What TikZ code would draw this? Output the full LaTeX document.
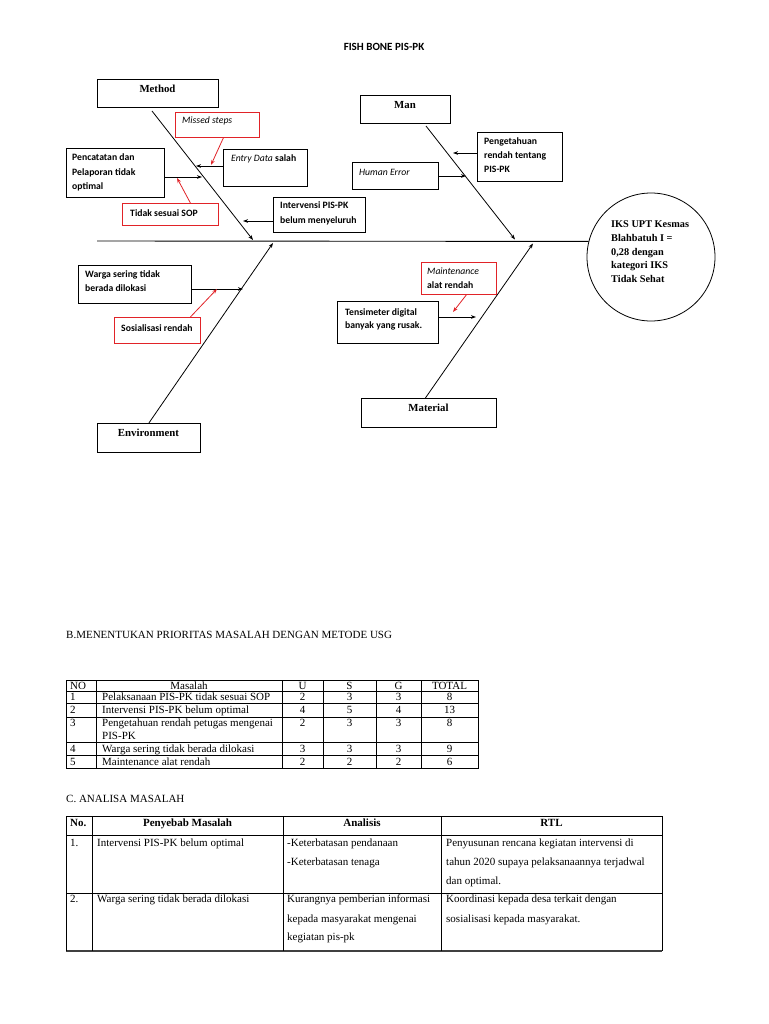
\documentclass[tikz,border=0pt]{standalone}
\usepackage{fontspec}
\setmainfont{Liberation Serif}
\newfontfamily\calib{Carlito}
\usetikzlibrary{arrows.meta,calc}
\definecolor{redline}{RGB}{225,35,40}
\begin{document}
\begin{tikzpicture}[x=1pt,y=-1pt,
  box/.style={draw,line width=0.8pt,inner sep=0pt,anchor=north west},
  rbox/.style={draw=redline,line width=0.8pt,inner sep=0pt,anchor=north west},
  cb/.style={font=\calib\bfseries\fontsize{9.7}{11}\selectfont,inner sep=0pt,anchor=base west},
  ci/.style={font=\calib\itshape\fontsize{9.7}{11}\selectfont,inner sep=0pt,anchor=base west},
  hd/.style={font=\bfseries\fontsize{10.8}{12}\selectfont,inner sep=0pt,anchor=base},
  circtxt/.style={font=\bfseries\fontsize{10.3}{12}\selectfont,inner sep=0pt,anchor=base west},
  bone/.style={line width=0.8pt,-{Stealth[length=5pt,width=3.6pt]}},
  arr/.style={line width=0.8pt,-{Stealth[length=5pt,width=3.6pt]}},
  rarr/.style={draw=redline,line width=0.8pt,-{Stealth[length=5pt,width=3.6pt]}},
  tl/.style={line width=0.7pt},
  tw/.style={font=\fontsize{11}{12}\selectfont,inner sep=0pt,anchor=base west},
  tc/.style={font=\fontsize{11}{12}\selectfont,inner sep=0pt,anchor=base},
  tbc/.style={font=\bfseries\fontsize{11}{12}\selectfont,inner sep=0pt,anchor=base},
  tbw/.style={font=\bfseries\fontsize{11}{12}\selectfont,inner sep=0pt,anchor=base west}
]
\useasboundingbox[fill=white] (0,0) rectangle (768,1024);

% ---------- title ----------
\node[font=\calib\bfseries\fontsize{11}{12}\selectfont,inner sep=0pt,anchor=base] (title) at (384,50.5) {FISH BONE PIS-PK};

% ---------- boxes ----------
\node[box,minimum width=121pt,minimum height=28pt] (method) at (97,79) {};
\node[box,minimum width=90pt,minimum height=28pt] (man) at (360,95) {};
\node[box,minimum width=103pt,minimum height=29pt] (env) at (97,423) {};
\node[box,minimum width=135pt,minimum height=29pt] (mat) at (361,398) {};

\node[hd] (methodt) at (157.5,92.5) {Method};
\node[hd] (mant) at (405,109) {Man};
\node[hd] (envt) at (148.5,436.5) {Environment};
\node[hd] (matt) at (428.5,411.5) {Material};

\node[rbox,minimum width=84pt,minimum height=25pt] (missed) at (175,112) {};
\node[box,minimum width=98pt,minimum height=49pt] (pcat) at (66,148) {};
\node[box,minimum width=84pt,minimum height=37pt] (entry) at (223,149) {};
\node[rbox,minimum width=96pt,minimum height=22pt] (sop) at (122,203) {};
\node[box,minimum width=92pt,minimum height=35pt] (interv) at (273,197) {};
\node[box,minimum width=85pt,minimum height=49pt] (peng) at (477,132) {};
\node[box,minimum width=86pt,minimum height=27pt] (human) at (352,162) {};
\node[box,minimum width=113pt,minimum height=38pt] (warga) at (78,265) {};
\node[rbox,minimum width=86pt,minimum height=26pt] (sos) at (114,317) {};
\node[rbox,minimum width=75pt,minimum height=32pt] (maint) at (421,262) {};
\node[box,minimum width=101pt,minimum height=42pt] (tensi) at (337,301) {};

% ---------- label texts ----------
\node[ci] (t1) at (182,124) {Missed steps};
\node[cb] (t2a) at (72,161) {Pencatatan dan};
\node[cb] (t2b) at (72,175.5) {Pelaporan tidak};
\node[cb] (t2c) at (72,190) {optimal};
\node[cb] (t3) at (231,162) {{\mdseries\itshape Entry Data} salah};
\node[cb] (t4) at (130,216.5) {Tidak sesuai SOP};
\node[cb] (t5a) at (280,209) {Intervensi PIS-PK};
\node[cb] (t5b) at (280,224) {belum menyeluruh};
\node[cb] (t6a) at (484,145) {Pengetahuan};
\node[cb] (t6b) at (484,159) {rendah tentang};
\node[cb] (t6c) at (484,172.5) {PIS-PK};
\node[ci] (t7) at (359,176) {Human Error};
\node[cb] (t8a) at (85,277) {Warga sering tidak};
\node[cb] (t8b) at (85,291.5) {berada dilokasi};
\node[cb] (t9) at (121,331.5) {Sosialisasi rendah};
\node[ci] (t10a) at (427,274.5) {Maintenance};
\node[cb] (t10b) at (427,288.5) {alat rendah};
\node[cb] (t11a) at (345,315) {Tensimeter digital};
\node[cb] (t11b) at (345,328.5) {banyak yang rusak.};

% ---------- effect circle ----------
\node[draw,circle,line width=0.8pt,minimum size=128pt,inner sep=0pt] (iks) at (651,257) {};
\node[circtxt] (c1) at (611,227.5) {IKS UPT Kesmas};
\node[circtxt] (c2) at (611,241.5) {Blahbatuh I =};
\node[circtxt] (c3) at (611,255) {0,28 dengan};
\node[circtxt] (c4) at (611,268.5) {kategori IKS};
\node[circtxt] (c5) at (611,282) {Tidak Sehat};

% ---------- spine and bones ----------
\coordinate (spineL) at (97,241);
\draw[line width=0.9pt] (spineL) -- (iks.166);

\coordinate (mbs) at (152,111);
\coordinate (mbe) at (253,240);
\coordinate (nbs) at (426,126);
\coordinate (nbe) at (515,239.5);
\coordinate (ebe) at (273,243);
\coordinate (tbe) at (533,243.5);
\draw[bone] (mbs) -- (mbe);
\draw[bone] (nbs) -- (nbe);
\draw[bone] (env.north) -- (ebe);
\draw[bone] ([xshift=-3.5pt]mat.north) -- (tbe);

% ---------- sub-arrows ----------
\coordinate (edtip) at (196,166);
\coordinate (pctip) at (202,177);
\coordinate (ivtip) at (243,221);
\coordinate (pgtip) at (453,153);
\coordinate (hetip) at (466,176);
\coordinate (wgtip) at (243,289);
\coordinate (tstip) at (476,317);
\draw[arr] (entry.west |- edtip) -- (edtip);
\draw[arr] (pcat.east |- pctip) -- (pctip);
\draw[arr] (interv.west |- ivtip) -- (ivtip);
\draw[arr] (peng.west |- pgtip) -- (pgtip);
\draw[arr] (human.east |- hetip) -- (hetip);
\draw[arr] (warga.east |- wgtip) -- (wgtip);
\draw[arr] (tensi.east |- tstip) -- (tstip);

\coordinate (mstip) at (211,165);
\coordinate (soptip) at (177,178);
\coordinate (sostip) at (217,289);
\coordinate (mntip) at (453,312);
\draw[rarr] ([xshift=6pt]missed.south) -- (mstip);
\draw[rarr] ([xshift=20pt]sop.north) -- (soptip);
\draw[rarr] ([xshift=33pt]sos.north) -- (sostip);
\draw[rarr] ([xshift=7.5pt]maint.south) -- (mntip);

% ---------- section B ----------
\node[tw] (hB) at (66,638.5) {B.MENENTUKAN PRIORITAS MASALAH DENGAN METODE USG};

\draw[tl] (66,680) rectangle (478,768);
\foreach \yy in {691,703,717,742,755} \draw[tl] (66,\yy) -- (478,\yy);
\foreach \xx in {96,282,323,376,421} \draw[tl] (\xx,680) -- (\xx,768);

\node[tw] (b00) at (70,689) {NO};
\node[tc] (b01) at (189,689) {Masalah};
\node[tc] (b02) at (302.5,689) {U};
\node[tc] (b03) at (349.5,689) {S};
\node[tc] (b04) at (398.5,689) {G};
\node[tc] (b05) at (449.5,689) {TOTAL};

\node[tw] (b10) at (70,700.5) {1};
\node[tw] (b11) at (102,700.5) {Pelaksanaan PIS-PK tidak sesuai SOP};
\node[tc] (b12) at (302.5,700.5) {2};
\node[tc] (b13) at (349.5,700.5) {3};
\node[tc] (b14) at (398.5,700.5) {3};
\node[tc] (b15) at (449.5,700.5) {8};

\node[tw] (b20) at (70,713) {2};
\node[tw] (b21) at (102,713) {Intervensi PIS-PK belum optimal};
\node[tc] (b22) at (302.5,713) {4};
\node[tc] (b23) at (349.5,713) {5};
\node[tc] (b24) at (398.5,713) {4};
\node[tc] (b25) at (449.5,713) {13};

\node[tw] (b30) at (70,726) {3};
\node[tw] (b31) at (102,726) {Pengetahuan rendah petugas mengenai};
\node[tw] (b31b) at (102,739) {PIS-PK};
\node[tc] (b32) at (302.5,726) {2};
\node[tc] (b33) at (349.5,726) {3};
\node[tc] (b34) at (398.5,726) {3};
\node[tc] (b35) at (449.5,726) {8};

\node[tw] (b40) at (70,752) {4};
\node[tw] (b41) at (102,752) {Warga sering tidak berada dilokasi};
\node[tc] (b42) at (302.5,752) {3};
\node[tc] (b43) at (349.5,752) {3};
\node[tc] (b44) at (398.5,752) {3};
\node[tc] (b45) at (449.5,752) {9};

\node[tw] (b50) at (70,765) {5};
\node[tw] (b51) at (102,765) {Maintenance alat rendah};
\node[tc] (b52) at (302.5,765) {2};
\node[tc] (b53) at (349.5,765) {2};
\node[tc] (b54) at (398.5,765) {2};
\node[tc] (b55) at (449.5,765) {6};

% ---------- section C ----------
\node[tw] (hC) at (66,802.5) {C. ANALISA MASALAH};

\draw[tl] (66,816) -- (662,816);
\draw[tl] (66,835) -- (662,835);
\draw[tl] (66,893) -- (662,893);
\draw[line width=1.3pt,black!75] (66,951) -- (662,951);
\foreach \xx in {66,92,283,441,662} \draw[tl] (\xx,816) -- (\xx,951);

\node[tbw] (c00) at (70,826.5) {No.};
\node[tbc] (c01) at (187.5,826.5) {Penyebab Masalah};
\node[tbc] (c02) at (362,826.5) {Analisis};
\node[tbc] (c03) at (551.5,826.5) {RTL};

\node[tw] (c10) at (70,846.5) {1.};
\node[tw] (c11) at (97,846.5) {Intervensi PIS-PK belum optimal};
\node[tw] (c12a) at (287,846.5) {-Keterbatasan pendanaan};
\node[tw] (c12b) at (287,865) {-Keterbatasan tenaga};
\node[tw] (c13a) at (446,846.5) {Penyusunan rencana kegiatan intervensi di};
\node[tw] (c13b) at (446,865) {tahun 2020 supaya pelaksanaannya terjadwal};
\node[tw] (c13c) at (446,884) {dan optimal.};

\node[tw] (c20) at (70,902.5) {2.};
\node[tw] (c21) at (97,902.5) {Warga sering tidak berada dilokasi};
\node[tw] (c22a) at (287,902.5) {Kurangnya pemberian informasi};
\node[tw] (c22b) at (287,922) {kepada masyarakat mengenai};
\node[tw] (c22c) at (287,940.5) {kegiatan pis-pk};
\node[tw] (c23a) at (446,902.5) {Koordinasi kepada desa terkait dengan};
\node[tw] (c23b) at (446,922) {sosialisasi kepada masyarakat.};
\end{tikzpicture}
\end{document}
